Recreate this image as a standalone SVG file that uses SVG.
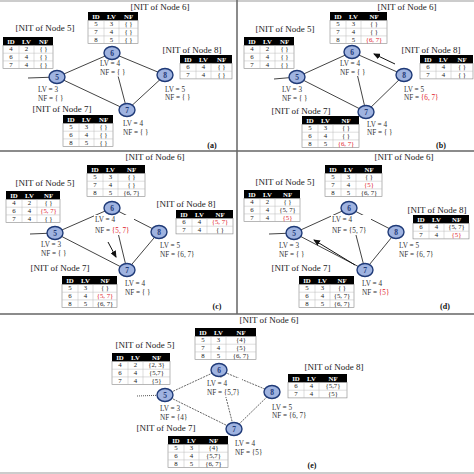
<svg xmlns="http://www.w3.org/2000/svg" width="474" height="474" viewBox="0 0 474 474">
<style>
.hd{fill:#000}
.th{font:bold 6.8px "Liberation Serif","Times New Roman",serif;fill:#fff;text-anchor:middle}
.td{font:6.8px "Liberation Serif","Times New Roman",serif;fill:#222;text-anchor:middle}
.red{fill:#e0202a}
.tb{fill:#fff;stroke:#888;stroke-width:0.6}
.gl{stroke:#bbb;stroke-width:0.5;fill:none}
.lab{font:9px "Liberation Serif","Times New Roman",serif;fill:#222;text-anchor:middle}
.lv{font:7.2px "Liberation Serif","Times New Roman",serif;fill:#333}
.nd{fill:#9fb3e0;stroke:#1f3a78;stroke-width:1.4}
.nn{font:bold 7.5px "Liberation Serif","Times New Roman",serif;fill:#1f3a78;text-anchor:middle}
.lbg{fill:#fff}
.pl{font:bold 8px "Liberation Serif","Times New Roman",serif;fill:#111;text-anchor:middle}
.ed{stroke:#444;stroke-width:1;fill:none}
.edd{stroke:#555;stroke-width:0.9;fill:none;stroke-dasharray:2 1}
.stb{stroke:#555;stroke-width:1;fill:none;stroke-dasharray:1 1}
.ar{stroke:#111;stroke-width:1;fill:none;marker-end:url(#ah)}
.sep{stroke:#666;stroke-width:1.5;fill:none}
.edge{stroke:#ccc;stroke-width:2;fill:none}
</style>
<defs>
<marker id="ah" markerUnits="userSpaceOnUse" markerWidth="7" markerHeight="6" refX="6" refY="3" orient="auto">
<path d="M0 0L7 3L0 6z" fill="#111"/>
</marker>
</defs>
<rect width="474" height="474" fill="#fff"/>
<g id="frame">
<path class="edge" d="M0 1H474M0 473H474"/>
<path class="sep" d="M237 0V314M0 151H474M0 314H474"/>
</g>
<g id="connectors">
<path class="ed" d="M57 77L112 53M112 53L165 75M57 77L127 110M112 53L127 110M127 110L165 75M28 78L57 77"/>
<path class="ed" d="M297 77L352 52M352 52L404 75M297 77L366 112M352 52L366 112M366 112L404 75M274 79L297 77"/>
<path class="ar" d="M395 64L374 54"/>
<path class="ed" d="M55 233L112 208M112 208L159 232M55 233L127 270M112 208L127 270M127 270L159 232M30 234L55 233"/>
<path class="ar" d="M108 242L116 257"/>
<path class="ed" d="M294 233L349 208M349 208L396 232M294 233L365 270M349 208L365 270M365 270L396 232M269 234L294 233"/>
<path class="ar" d="M355 265L314 240"/>
<path class="edd" d="M165 395L219 370M219 370L272 392M165 395L234 429M219 370L234 429M234 429L272 392"/>
<path class="stb" d="M137 396L158 395.3"/>
</g>
<!-- Panel (a) -->
<g id="a-n6">
<text class="lab" x="160" y="10">[NIT of Node 6]</text>
<g transform="translate(88,12)">
<rect class="hd" width="50" height="8.5"/>
<text class="th" x="8" y="6.5">ID</text><text class="th" x="23.5" y="6.5">LV</text><text class="th" x="40.5" y="6.5">NF</text>
<rect class="tb" y="8.5" width="50" height="23.1"/>
<path class="gl" d="M0 16.2H50M0 23.9H50M16 8.5V31.6M31 8.5V31.6"/>
<text class="td" x="8" y="14.3">5</text><text class="td" x="23.5" y="14.3">3</text><text class="td" x="40.5" y="14.3">{ }</text>
<text class="td" x="8" y="22">7</text><text class="td" x="23.5" y="22">4</text><text class="td" x="40.5" y="22">{ }</text>
<text class="td" x="8" y="29.7">8</text><text class="td" x="23.5" y="29.7">5</text><text class="td" x="40.5" y="29.7">{ }</text>
</g>
<rect class="lbg" x="99" y="59.5" width="26" height="17"/>
<ellipse class="nd" cx="112" cy="53" rx="8" ry="6.5"/>
<text class="nn" x="112" y="55.7">6</text>
<text class="lv" x="100" y="65.5">LV = 4</text>
<text class="lv" x="100" y="74.5">NF = { }</text>
</g>
<g id="a-n5">
<text class="lab" x="45" y="31">[NIT of Node 5]</text>
<g transform="translate(3,37)">
<rect class="hd" width="50" height="8.5"/>
<text class="th" x="8" y="6.5">ID</text><text class="th" x="23.5" y="6.5">LV</text><text class="th" x="40.5" y="6.5">NF</text>
<rect class="tb" y="8.5" width="50" height="23.1"/>
<path class="gl" d="M0 16.2H50M0 23.9H50M16 8.5V31.6M31 8.5V31.6"/>
<text class="td" x="8" y="14.3">4</text><text class="td" x="23.5" y="14.3">2</text><text class="td" x="40.5" y="14.3">{ }</text>
<text class="td" x="8" y="22">6</text><text class="td" x="23.5" y="22">4</text><text class="td" x="40.5" y="22">{ }</text>
<text class="td" x="8" y="29.7">7</text><text class="td" x="23.5" y="29.7">4</text><text class="td" x="40.5" y="29.7">{ }</text>
</g>
<ellipse class="nd" cx="57" cy="77" rx="8" ry="6.5"/>
<text class="nn" x="57" y="79.7">5</text>
<text class="lv" x="38" y="91.5">LV = 3</text>
<text class="lv" x="38" y="100.5">NF = { }</text>
</g>
<g id="a-n8">
<text class="lab" x="192" y="53">[NIT of Node 8]</text>
<g transform="translate(180,55)">
<rect class="hd" width="52" height="8.5"/>
<text class="th" x="8" y="6.5">ID</text><text class="th" x="23.5" y="6.5">LV</text><text class="th" x="41.5" y="6.5">NF</text>
<rect class="tb" y="8.5" width="52" height="15.4"/>
<path class="gl" d="M0 16.2H52M16 8.5V23.9M31 8.5V23.9"/>
<text class="td" x="8" y="14.3">6</text><text class="td" x="23.5" y="14.3">4</text><text class="td" x="41.5" y="14.3">{ }</text>
<text class="td" x="8" y="22">7</text><text class="td" x="23.5" y="22">4</text><text class="td" x="41.5" y="22">{ }</text>
</g>
<ellipse class="nd" cx="165" cy="75" rx="8" ry="6.5"/>
<text class="nn" x="165" y="77.7">8</text>
<text class="lv" x="165" y="91.5">LV = 5</text>
<text class="lv" x="165" y="99.5">NF = { }</text>
</g>
<g id="a-n7">
<text class="lab" x="62" y="112">[NIT of Node 7]</text>
<g transform="translate(63,115)">
<rect class="hd" width="50" height="8.5"/>
<text class="th" x="8" y="6.5">ID</text><text class="th" x="23.5" y="6.5">LV</text><text class="th" x="40.5" y="6.5">NF</text>
<rect class="tb" y="8.5" width="50" height="23.1"/>
<path class="gl" d="M0 16.2H50M0 23.9H50M16 8.5V31.6M31 8.5V31.6"/>
<text class="td" x="8" y="14.3">5</text><text class="td" x="23.5" y="14.3">3</text><text class="td" x="40.5" y="14.3">{ }</text>
<text class="td" x="8" y="22">6</text><text class="td" x="23.5" y="22">4</text><text class="td" x="40.5" y="22">{ }</text>
<text class="td" x="8" y="29.7">8</text><text class="td" x="23.5" y="29.7">5</text><text class="td" x="40.5" y="29.7">{ }</text>
</g>
<ellipse class="nd" cx="127" cy="110" rx="8" ry="6.5"/>
<text class="nn" x="127" y="112.7">7</text>
<text class="lv" x="123" y="125.5">LV = 4</text>
<text class="lv" x="123" y="134.5">NF = { }</text>
</g>
<text class="pl" x="212" y="148">(a)</text>
<!-- Panel (b) -->
<g id="b-n6">
<text class="lab" x="407" y="10">[NIT of Node 6]</text>
<g transform="translate(330,12)">
<rect class="hd" width="57" height="8.5"/>
<text class="th" x="8" y="6.5">ID</text><text class="th" x="23.5" y="6.5">LV</text><text class="th" x="44" y="6.5">NF</text>
<rect class="tb" y="8.5" width="57" height="23.1"/>
<path class="gl" d="M0 16.2H57M0 23.9H57M16 8.5V31.6M31 8.5V31.6"/>
<text class="td" x="8" y="14.3">5</text><text class="td" x="23.5" y="14.3">3</text><text class="td" x="44" y="14.3">{ }</text>
<text class="td" x="8" y="22">7</text><text class="td" x="23.5" y="22">4</text><text class="td" x="44" y="22">{ }</text>
<text class="td" x="8" y="29.7">8</text><text class="td" x="23.5" y="29.7">5</text><text class="td red" x="44" y="29.7">{6, 7}</text>
</g>
<rect class="lbg" x="339" y="59" width="26" height="17"/>
<ellipse class="nd" cx="352" cy="52" rx="8" ry="6.5"/>
<text class="nn" x="352" y="54.7">6</text>
<text class="lv" x="340" y="65.5">LV = 4</text>
<text class="lv" x="340" y="74.5">NF = { }</text>
</g>
<g id="b-n5">
<text class="lab" x="285" y="32">[NIT of Node 5]</text>
<g transform="translate(244,37)">
<rect class="hd" width="50" height="8.5"/>
<text class="th" x="8" y="6.5">ID</text><text class="th" x="23.5" y="6.5">LV</text><text class="th" x="40.5" y="6.5">NF</text>
<rect class="tb" y="8.5" width="50" height="23.1"/>
<path class="gl" d="M0 16.2H50M0 23.9H50M16 8.5V31.6M31 8.5V31.6"/>
<text class="td" x="8" y="14.3">4</text><text class="td" x="23.5" y="14.3">2</text><text class="td" x="40.5" y="14.3">{ }</text>
<text class="td" x="8" y="22">6</text><text class="td" x="23.5" y="22">4</text><text class="td" x="40.5" y="22">{ }</text>
<text class="td" x="8" y="29.7">7</text><text class="td" x="23.5" y="29.7">4</text><text class="td" x="40.5" y="29.7">{ }</text>
</g>
<ellipse class="nd" cx="297" cy="77" rx="8" ry="6.5"/>
<text class="nn" x="297" y="79.7">5</text>
<text class="lv" x="282" y="91.5">LV = 3</text>
<text class="lv" x="282" y="100.5">NF = { }</text>
</g>
<g id="b-n8">
<text class="lab" x="431" y="53">[NIT of Node 8]</text>
<g transform="translate(420,55)">
<rect class="hd" width="53" height="8.5"/>
<text class="th" x="8" y="6.5">ID</text><text class="th" x="23.5" y="6.5">LV</text><text class="th" x="42" y="6.5">NF</text>
<rect class="tb" y="8.5" width="53" height="15.4"/>
<path class="gl" d="M0 16.2H53M16 8.5V23.9M31 8.5V23.9"/>
<text class="td" x="8" y="14.3">6</text><text class="td" x="23.5" y="14.3">4</text><text class="td" x="42" y="14.3">{ }</text>
<text class="td" x="8" y="22">7</text><text class="td" x="23.5" y="22">4</text><text class="td" x="42" y="22">{ }</text>
</g>
<ellipse class="nd" cx="404" cy="75" rx="8" ry="6.5"/>
<text class="nn" x="404" y="77.7">8</text>
<text class="lv" x="404" y="91.5">LV = 5</text>
<text class="lv" x="404" y="99.5">NF = <tspan class="red">{6, 7}</tspan></text>
</g>
<g id="b-n7">
<text class="lab" x="301" y="114">[NIT of Node 7]</text>
<g transform="translate(302,116)">
<rect class="hd" width="57" height="8.5"/>
<text class="th" x="8" y="6.5">ID</text><text class="th" x="23.5" y="6.5">LV</text><text class="th" x="44" y="6.5">NF</text>
<rect class="tb" y="8.5" width="57" height="23.1"/>
<path class="gl" d="M0 16.2H57M0 23.9H57M16 8.5V31.6M31 8.5V31.6"/>
<text class="td" x="8" y="14.3">5</text><text class="td" x="23.5" y="14.3">3</text><text class="td" x="44" y="14.3">{ }</text>
<text class="td" x="8" y="22">6</text><text class="td" x="23.5" y="22">4</text><text class="td" x="44" y="22">{ }</text>
<text class="td" x="8" y="29.7">8</text><text class="td" x="23.5" y="29.7">5</text><text class="td red" x="44" y="29.7">{6, 7}</text>
</g>
<ellipse class="nd" cx="366" cy="112" rx="8" ry="6.5"/>
<text class="nn" x="366" y="114.7">7</text>
<text class="lv" x="367" y="126.5">LV = 4</text>
<text class="lv" x="367" y="135">NF = { }</text>
</g>
<text class="pl" x="441" y="148">(b)</text>
<!-- Panel (c) -->
<g id="c-n6">
<text class="lab" x="155" y="160">[NIT of Node 6]</text>
<g transform="translate(87,165)">
<rect class="hd" width="58" height="8.5"/>
<text class="th" x="8" y="6.5">ID</text><text class="th" x="23.5" y="6.5">LV</text><text class="th" x="44.5" y="6.5">NF</text>
<rect class="tb" y="8.5" width="58" height="23.1"/>
<path class="gl" d="M0 16.2H58M0 23.9H58M16 8.5V31.6M31 8.5V31.6"/>
<text class="td" x="8" y="14.3">5</text><text class="td" x="23.5" y="14.3">3</text><text class="td" x="44.5" y="14.3">{ }</text>
<text class="td" x="8" y="22">7</text><text class="td" x="23.5" y="22">4</text><text class="td" x="44.5" y="22">{ }</text>
<text class="td" x="8" y="29.7">8</text><text class="td" x="23.5" y="29.7">5</text><text class="td" x="44.5" y="29.7">{6, 7}</text>
</g>
<rect class="lbg" x="94" y="215" width="40" height="20"/>
<ellipse class="nd" cx="112" cy="208" rx="8" ry="6.5"/>
<text class="nn" x="112" y="210.7">6</text>
<text class="lv" x="95" y="221.5">LV = 4</text>
<text class="lv" x="95" y="232.5">NF = <tspan class="red">{5, 7}</tspan></text>
</g>
<g id="c-n5">
<text class="lab" x="45" y="186">[NIT of Node 5]</text>
<g transform="translate(6,191)">
<rect class="hd" width="54" height="8.5"/>
<text class="th" x="8" y="6.5">ID</text><text class="th" x="23.5" y="6.5">LV</text><text class="th" x="42.5" y="6.5">NF</text>
<rect class="tb" y="8.5" width="54" height="23.1"/>
<path class="gl" d="M0 16.2H54M0 23.9H54M16 8.5V31.6M31 8.5V31.6"/>
<text class="td" x="8" y="14.3">4</text><text class="td" x="23.5" y="14.3">2</text><text class="td" x="42.5" y="14.3">{ }</text>
<text class="td" x="8" y="22">6</text><text class="td" x="23.5" y="22">4</text><text class="td red" x="42.5" y="22">{5, 7}</text>
<text class="td" x="8" y="29.7">7</text><text class="td" x="23.5" y="29.7">4</text><text class="td" x="42.5" y="29.7">{ }</text>
</g>
<ellipse class="nd" cx="55" cy="233" rx="8" ry="6.5"/>
<text class="nn" x="55" y="235.7">5</text>
<text class="lv" x="41" y="246.5">LV = 3</text>
<text class="lv" x="41" y="256">NF = { }</text>
</g>
<g id="c-n8">
<text class="lab" x="186" y="207">[NIT of Node 8]</text>
<g transform="translate(176,210)">
<rect class="hd" width="57" height="8.5"/>
<text class="th" x="8" y="6.5">ID</text><text class="th" x="23.5" y="6.5">LV</text><text class="th" x="44" y="6.5">NF</text>
<rect class="tb" y="8.5" width="57" height="15.4"/>
<path class="gl" d="M0 16.2H57M16 8.5V23.9M31 8.5V23.9"/>
<text class="td" x="8" y="14.3">6</text><text class="td" x="23.5" y="14.3">4</text><text class="td red" x="44" y="14.3">{5, 7}</text>
<text class="td" x="8" y="22">7</text><text class="td" x="23.5" y="22">4</text><text class="td" x="44" y="22">{ }</text>
</g>
<ellipse class="nd" cx="159" cy="232" rx="8" ry="6.5"/>
<text class="nn" x="159" y="234.7">8</text>
<text class="lv" x="160" y="247.5">LV = 5</text>
<text class="lv" x="160" y="256.5">NF = {6, 7}</text>
</g>
<g id="c-n7">
<text class="lab" x="60" y="271">[NIT of Node 7]</text>
<g transform="translate(62,276)">
<rect class="hd" width="55" height="8.5"/>
<text class="th" x="8" y="6.5">ID</text><text class="th" x="23.5" y="6.5">LV</text><text class="th" x="43" y="6.5">NF</text>
<rect class="tb" y="8.5" width="55" height="23.1"/>
<path class="gl" d="M0 16.2H55M0 23.9H55M16 8.5V31.6M31 8.5V31.6"/>
<text class="td" x="8" y="14.3">5</text><text class="td" x="23.5" y="14.3">3</text><text class="td" x="43" y="14.3">{ }</text>
<text class="td" x="8" y="22">6</text><text class="td" x="23.5" y="22">4</text><text class="td red" x="43" y="22">{5, 7}</text>
<text class="td" x="8" y="29.7">8</text><text class="td" x="23.5" y="29.7">5</text><text class="td" x="43" y="29.7">{6, 7}</text>
</g>
<ellipse class="nd" cx="127" cy="270" rx="8" ry="6.5"/>
<text class="nn" x="127" y="272.7">7</text>
<text class="lv" x="125" y="285.5">LV = 4</text>
<text class="lv" x="125" y="294.5">NF = { }</text>
</g>
<text class="pl" x="217" y="309">(c)</text>
<!-- Panel (d) -->
<g id="d-n6">
<text class="lab" x="404" y="160">[NIT of Node 6]</text>
<g transform="translate(325,165)">
<rect class="hd" width="57" height="8.5"/>
<text class="th" x="8" y="6.5">ID</text><text class="th" x="23.5" y="6.5">LV</text><text class="th" x="44" y="6.5">NF</text>
<rect class="tb" y="8.5" width="57" height="23.1"/>
<path class="gl" d="M0 16.2H57M0 23.9H57M16 8.5V31.6M31 8.5V31.6"/>
<text class="td" x="8" y="14.3">5</text><text class="td" x="23.5" y="14.3">3</text><text class="td" x="44" y="14.3">{ }</text>
<text class="td" x="8" y="22">7</text><text class="td" x="23.5" y="22">4</text><text class="td red" x="44" y="22">{5}</text>
<text class="td" x="8" y="29.7">8</text><text class="td" x="23.5" y="29.7">5</text><text class="td" x="44" y="29.7">{6, 7}</text>
</g>
<rect class="lbg" x="331" y="215" width="40" height="20"/>
<ellipse class="nd" cx="349" cy="208" rx="8" ry="6.5"/>
<text class="nn" x="349" y="210.7">6</text>
<text class="lv" x="332" y="221.5">LV = 4</text>
<text class="lv" x="332" y="232.5">NF = {5, 7}</text>
</g>
<g id="d-n5">
<text class="lab" x="285" y="185">[NIT of Node 5]</text>
<g transform="translate(244,190)">
<rect class="hd" width="56" height="8.5"/>
<text class="th" x="8" y="6.5">ID</text><text class="th" x="23.5" y="6.5">LV</text><text class="th" x="43.5" y="6.5">NF</text>
<rect class="tb" y="8.5" width="56" height="23.1"/>
<path class="gl" d="M0 16.2H56M0 23.9H56M16 8.5V31.6M31 8.5V31.6"/>
<text class="td" x="8" y="14.3">4</text><text class="td" x="23.5" y="14.3">2</text><text class="td" x="43.5" y="14.3">{ }</text>
<text class="td" x="8" y="22">6</text><text class="td" x="23.5" y="22">4</text><text class="td" x="43.5" y="22">{5, 7}</text>
<text class="td" x="8" y="29.7">7</text><text class="td" x="23.5" y="29.7">4</text><text class="td red" x="43.5" y="29.7">{5}</text>
</g>
<ellipse class="nd" cx="294" cy="233" rx="8" ry="6.5"/>
<text class="nn" x="294" y="235.7">5</text>
<text class="lv" x="279" y="247.5">LV = 3</text>
<text class="lv" x="279" y="256.5">NF = { }</text>
</g>
<g id="d-n8">
<text class="lab" x="437" y="213">[NIT of Node 8]</text>
<g transform="translate(413,215)">
<rect class="hd" width="56" height="8.5"/>
<text class="th" x="8" y="6.5">ID</text><text class="th" x="23.5" y="6.5">LV</text><text class="th" x="43.5" y="6.5">NF</text>
<rect class="tb" y="8.5" width="56" height="15.4"/>
<path class="gl" d="M0 16.2H56M16 8.5V23.9M31 8.5V23.9"/>
<text class="td" x="8" y="14.3">6</text><text class="td" x="23.5" y="14.3">4</text><text class="td" x="43.5" y="14.3">{5, 7}</text>
<text class="td" x="8" y="22">7</text><text class="td" x="23.5" y="22">4</text><text class="td red" x="43.5" y="22">{5}</text>
</g>
<ellipse class="nd" cx="396" cy="232" rx="8" ry="6.5"/>
<text class="nn" x="396" y="234.7">8</text>
<text class="lv" x="399" y="247.5">LV = 5</text>
<text class="lv" x="399" y="256.5">NF = {6, 7}</text>
</g>
<g id="d-n7">
<text class="lab" x="301" y="271">[NIT of Node 7]</text>
<g transform="translate(299,276)">
<rect class="hd" width="55" height="8.5"/>
<text class="th" x="8" y="6.5">ID</text><text class="th" x="23.5" y="6.5">LV</text><text class="th" x="43" y="6.5">NF</text>
<rect class="tb" y="8.5" width="55" height="23.1"/>
<path class="gl" d="M0 16.2H55M0 23.9H55M16 8.5V31.6M31 8.5V31.6"/>
<text class="td" x="8" y="14.3">5</text><text class="td" x="23.5" y="14.3">3</text><text class="td" x="43" y="14.3">{ }</text>
<text class="td" x="8" y="22">6</text><text class="td" x="23.5" y="22">4</text><text class="td" x="43" y="22">{5, 7}</text>
<text class="td" x="8" y="29.7">8</text><text class="td" x="23.5" y="29.7">5</text><text class="td" x="43" y="29.7">{6, 7}</text>
</g>
<ellipse class="nd" cx="365" cy="270" rx="8" ry="6.5"/>
<text class="nn" x="365" y="272.7">7</text>
<text class="lv" x="362" y="285.5">LV = 4</text>
<text class="lv" x="362" y="294.5">NF = <tspan class="red">{5}</tspan></text>
</g>
<text class="pl" x="445" y="309">(d)</text>
<!-- Panel (e) -->
<g id="e-n6">
<text class="lab" x="269" y="323">[NIT of Node 6]</text>
<g transform="translate(195,328)">
<rect class="hd" width="61" height="8.5"/>
<text class="th" x="8" y="6.5">ID</text><text class="th" x="23.5" y="6.5">LV</text><text class="th" x="46" y="6.5">NF</text>
<rect class="tb" y="8.5" width="61" height="23.1"/>
<path class="gl" d="M0 16.2H61M0 23.9H61M16 8.5V31.6M31 8.5V31.6"/>
<text class="td" x="8" y="14.3">5</text><text class="td" x="23.5" y="14.3">3</text><text class="td" x="46" y="14.3">{4}</text>
<text class="td" x="8" y="22">7</text><text class="td" x="23.5" y="22">4</text><text class="td" x="46" y="22">{5}</text>
<text class="td" x="8" y="29.7">8</text><text class="td" x="23.5" y="29.7">5</text><text class="td" x="46" y="29.7">{6, 7}</text>
</g>
<rect class="lbg" x="206" y="378" width="36" height="19"/>
<ellipse class="nd" cx="219" cy="370" rx="8" ry="6.5"/>
<text class="nn" x="219" y="372.7">6</text>
<text class="lv" x="207" y="385.5">LV = 4</text>
<text class="lv" x="207" y="394.5">NF = {5,7}</text>
</g>
<g id="e-n5">
<text class="lab" x="145" y="348">[NIT of Node 5]</text>
<g transform="translate(112,353)">
<rect class="hd" width="58" height="8.5"/>
<text class="th" x="8" y="6.5">ID</text><text class="th" x="23.5" y="6.5">LV</text><text class="th" x="44.5" y="6.5">NF</text>
<rect class="tb" y="8.5" width="58" height="23.1"/>
<path class="gl" d="M0 16.2H58M0 23.9H58M16 8.5V31.6M31 8.5V31.6"/>
<text class="td" x="8" y="14.3">4</text><text class="td" x="23.5" y="14.3">2</text><text class="td" x="44.5" y="14.3">{2, 3}</text>
<text class="td" x="8" y="22">6</text><text class="td" x="23.5" y="22">4</text><text class="td" x="44.5" y="22">{5,7}</text>
<text class="td" x="8" y="29.7">7</text><text class="td" x="23.5" y="29.7">4</text><text class="td" x="44.5" y="29.7">{5}</text>
</g>
<ellipse class="nd" cx="165" cy="395" rx="8" ry="6.5"/>
<text class="nn" x="165" y="397.7">5</text>
<text class="lv" x="160" y="410.5">LV = 3</text>
<text class="lv" x="160" y="419.5">NF = {4}</text>
</g>
<g id="e-n8">
<text class="lab" x="334" y="370">[NIT of Node 8]</text>
<g transform="translate(288,374)">
<rect class="hd" width="59" height="8.5"/>
<text class="th" x="8" y="6.5">ID</text><text class="th" x="23.5" y="6.5">LV</text><text class="th" x="45" y="6.5">NF</text>
<rect class="tb" y="8.5" width="59" height="15.4"/>
<path class="gl" d="M0 16.2H59M16 8.5V23.9M31 8.5V23.9"/>
<text class="td" x="8" y="14.3">6</text><text class="td" x="23.5" y="14.3">4</text><text class="td" x="45" y="14.3">{5,7}</text>
<text class="td" x="8" y="22">7</text><text class="td" x="23.5" y="22">4</text><text class="td" x="45" y="22">{5}</text>
</g>
<ellipse class="nd" cx="272" cy="392" rx="8" ry="6.5"/>
<text class="nn" x="272" y="394.7">8</text>
<text class="lv" x="272" y="409.5">LV = 5</text>
<text class="lv" x="272" y="418">NF = {6, 7}</text>
</g>
<g id="e-n7">
<text class="lab" x="166" y="431">[NIT of Node 7]</text>
<g transform="translate(168,436)">
<rect class="hd" width="60" height="8.5"/>
<text class="th" x="8" y="6.5">ID</text><text class="th" x="23.5" y="6.5">LV</text><text class="th" x="45.5" y="6.5">NF</text>
<rect class="tb" y="8.5" width="60" height="23.1"/>
<path class="gl" d="M0 16.2H60M0 23.9H60M16 8.5V31.6M31 8.5V31.6"/>
<text class="td" x="8" y="14.3">5</text><text class="td" x="23.5" y="14.3">3</text><text class="td" x="45.5" y="14.3">{4}</text>
<text class="td" x="8" y="22">6</text><text class="td" x="23.5" y="22">4</text><text class="td" x="45.5" y="22">{5,7}</text>
<text class="td" x="8" y="29.7">8</text><text class="td" x="23.5" y="29.7">5</text><text class="td" x="45.5" y="29.7">{6, 7}</text>
</g>
<ellipse class="nd" cx="234" cy="429" rx="8" ry="6.5"/>
<text class="nn" x="234" y="431.7">7</text>
<text class="lv" x="235" y="445.5">LV = 4</text>
<text class="lv" x="235" y="454.5">NF = {5}</text>
</g>
<text class="pl" x="312" y="468">(e)</text>
</svg>
